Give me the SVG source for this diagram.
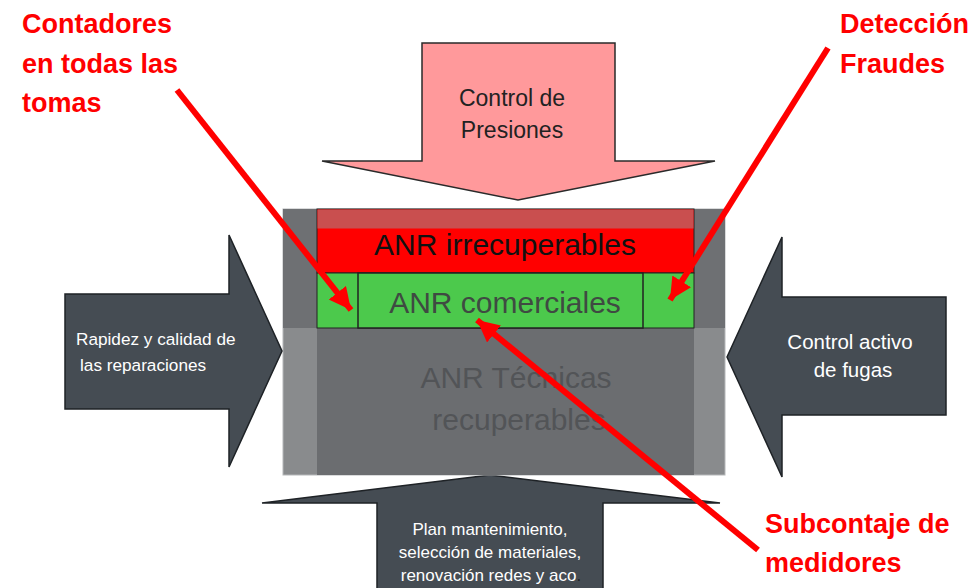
<svg xmlns="http://www.w3.org/2000/svg" width="974" height="588" viewBox="0 0 974 588">
<style>
.lbl{font-family:"Liberation Sans",Arial,sans-serif;font-weight:bold;fill:#ff0000;font-size:27px}
.dark{fill:#454c53;stroke:#1e2226;stroke-width:1.5}
.wt{font-family:"Liberation Sans",Arial,sans-serif;fill:#ffffff}
.big{font-family:"Liberation Sans",Arial,sans-serif;font-size:30px;text-anchor:middle}
.red{stroke:#ff0000;stroke-width:6;fill:none}
</style>
<defs>
<marker id="ah" markerUnits="userSpaceOnUse" markerWidth="26" markerHeight="24" refX="22" refY="11" orient="auto">
<path d="M0,0 L22,11 L0,22 Z" fill="#ff0000"/>
</marker>
</defs>
<rect width="974" height="588" fill="#ffffff"/>

<g id="arrow-bottom">
<polygon class="dark" points="377,600 377,503 262,503 490,475 720,503 603,503 603,600"/>
<text class="wt" font-size="17" text-anchor="middle"><tspan x="490" y="535">Plan mantenimiento,</tspan><tspan x="490" y="558">selección de materiales,</tspan><tspan x="491" y="581">renovación redes y aco<tspan fill="#1e2226">.</tspan></tspan></text>
</g>

<g id="box">
<rect x="283" y="209" width="442" height="266" fill="#898b8d" stroke="#b5b7b9" stroke-width="1"/>
<rect x="283" y="209" width="442" height="119" fill="#6e7073"/>
<rect x="317" y="328" width="377" height="147" fill="#6b6d70"/>
</g>

<g id="anr-irrecuperables">
<rect x="317" y="209" width="377" height="64" fill="#ff0000" stroke="#222" stroke-width="1"/>
<rect x="317.5" y="209.5" width="376" height="19" fill="#c94f4f"/>
<text class="big" x="505" y="255" fill="#111">ANR irrecuperables</text>
</g>

<g id="anr-comerciales">
<rect x="317" y="273" width="377" height="55" fill="#4cc94c" stroke="#222" stroke-width="1"/>
<rect x="358" y="273" width="285" height="55" fill="#4cc94c" stroke="#222" stroke-width="1.5"/>
<text class="big" x="505" y="313" font-size="29" fill="#3f4a42">ANR comerciales</text>
</g>

<g id="anr-tecnicas">
<text class="big" fill="#525457"><tspan x="516" y="388">ANR Técnicas</tspan><tspan x="519" y="430">recuperables</tspan></text>
</g>

<g id="arrow-top">
<polygon points="422,43 615,43 615,161 715,161 518,200 322,161 422,161" fill="#ff999b" stroke="#2a2a2a" stroke-width="1.5"/>
<text font-family="Liberation Sans, Arial, sans-serif" font-size="23" fill="#222" text-anchor="middle"><tspan x="512" y="106">Control de</tspan><tspan x="512" y="138">Presiones</tspan></text>
</g>

<g id="arrow-left">
<polygon class="dark" points="65,294 229,294 229,235 282,351 229,467 229,409 65,409"/>
<text class="wt" font-size="17.2"><tspan x="76" y="345">Rapidez y calidad de</tspan><tspan x="80" y="371">las reparaciones</tspan></text>
</g>

<g id="arrow-right">
<polygon class="dark" points="946,297 782,297 782,237 727,357 782,477 782,415 946,415"/>
<text class="wt" font-size="20.5" text-anchor="middle"><tspan x="850" y="349">Control activo</tspan><tspan x="853" y="377">de fugas</tspan></text>
</g>

<g id="label-contadores">
<text class="lbl"><tspan x="22" y="33">Contadores</tspan><tspan x="22" y="73">en todas las</tspan><tspan x="22" y="112">tomas</tspan></text>
</g>
<g id="label-deteccion">
<text class="lbl"><tspan x="840" y="33">Detección</tspan><tspan x="840" y="73">Fraudes</tspan></text>
</g>
<g id="label-subcontaje">
<text class="lbl"><tspan x="765" y="533">Subcontaje de</tspan><tspan x="765" y="572">medidores</tspan></text>
</g>

<g id="connectors">
<line class="red" x1="177" y1="90" x2="351" y2="310" marker-end="url(#ah)"/>
<line class="red" x1="828" y1="48" x2="670" y2="300" marker-end="url(#ah)"/>
<line class="red" x1="758" y1="550" x2="477" y2="320" marker-end="url(#ah)"/>
</g>
</svg>
